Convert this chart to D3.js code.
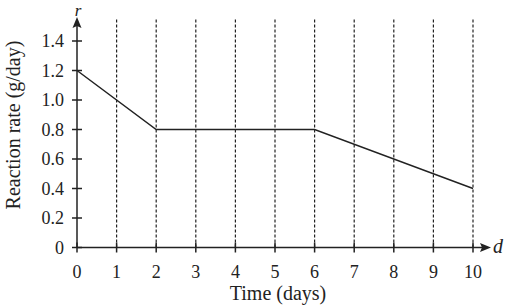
<!DOCTYPE html>
<html><head><meta charset="utf-8">
<script src="https://cdn.jsdelivr.net/npm/d3@7"></script>
<style>body{margin:0;background:#fff}svg{display:block}</style>
</head><body>
<svg id="c" width="506" height="308"></svg>
<script>
const days = [0, 2, 6, 10];
const rates = [1.2, 0.8, 0.8, 0.4];
const xTicks = [0,1,2,3,4,5,6,7,8,9,10];
const yTicks = [0,0.2,0.4,0.6,0.8,1.0,1.2,1.4];
const yTickLabels = ["0","0.2","0.4","0.6","0.8","1.0","1.2","1.4"];
const xTitle = "Time (days)";
const yTitle = "Reaction rate (g/day)";

const svg = d3.select("#c");
const font = "'Liberation Serif', 'Times New Roman', serif";
const x = d3.scaleLinear().domain([0,10]).range([77,473]);
const y = d3.scaleLinear().domain([0,1.4]).range([247.5,41]);
const col = "#222";

// dashed gridlines
svg.selectAll("line.grid").data(xTicks.slice(1)).join("line")
  .attr("x1", d=>x(d)).attr("x2", d=>x(d))
  .attr("y1", y(0)).attr("y2", 18)
  .attr("stroke", col).attr("stroke-width", 1.2).attr("stroke-dasharray", "3,2");

// x axis
svg.append("line").attr("x1", x(0)).attr("x2", 484).attr("y1", y(0)).attr("y2", y(0))
  .attr("stroke", col).attr("stroke-width", 1.5);
svg.append("path").attr("d", `M491,${y(0)} L480,${y(0)-4.5} L482,${y(0)} L480,${y(0)+4.5} Z`).attr("fill", col);
// y axis
svg.append("line").attr("x1", x(0)).attr("x2", x(0)).attr("y1", y(0)).attr("y2", 24)
  .attr("stroke", col).attr("stroke-width", 1.5);
svg.append("path").attr("d", `M${x(0)},17 L${x(0)-4.5},28 L${x(0)},26 L${x(0)+4.5},28 Z`).attr("fill", col);

// x ticks
svg.selectAll("line.xt").data(xTicks).join("line")
  .attr("x1", d=>x(d)).attr("x2", d=>x(d)).attr("y1", y(0)-5).attr("y2", y(0)+5)
  .attr("stroke", col).attr("stroke-width", 1.5);
svg.selectAll("text.xl").data(xTicks).join("text")
  .attr("x", d=>x(d)).attr("y", 278).attr("text-anchor", "middle")
  .attr("font-family", font).attr("font-size", 18).attr("fill", col).text(d=>d);
// y ticks
svg.selectAll("line.yt").data(yTicks).join("line")
  .attr("x1", x(0)-5).attr("x2", x(0)+5).attr("y1", d=>y(d)).attr("y2", d=>y(d))
  .attr("stroke", col).attr("stroke-width", 1.5);
svg.selectAll("text.yl").data(yTicks).join("text")
  .attr("x", 64).attr("y", d=>y(d)+6).attr("text-anchor", "end")
  .attr("font-family", font).attr("font-size", 18).attr("fill", col).text((d,i)=>yTickLabels[i]);

// data line
svg.append("path").datum(days.map((d,i)=>[d,rates[i]]))
  .attr("d", d3.line().x(d=>x(d[0])).y(d=>y(d[1])))
  .attr("fill", "none").attr("stroke", col).attr("stroke-width", 1.5);

// titles
svg.append("text").attr("x", 278).attr("y", 300).attr("text-anchor", "middle")
  .attr("font-family", font).attr("font-size", 20).attr("fill", col).text(xTitle);
svg.append("text").attr("transform", "translate(20,125) rotate(-90)").attr("text-anchor", "middle")
  .attr("font-family", font).attr("font-size", 20).attr("fill", col).text(yTitle);
svg.append("text").attr("x", 78).attr("y", 15.5).attr("text-anchor", "middle")
  .attr("font-family", font).attr("font-size", 17).attr("font-style", "italic").attr("fill", col).text("r");
svg.append("text").attr("x", 498).attr("y", y(0)+5).attr("text-anchor", "middle")
  .attr("font-family", font).attr("font-size", 20).attr("font-style", "italic").attr("fill", col).text("d");
</script>
</body></html>
